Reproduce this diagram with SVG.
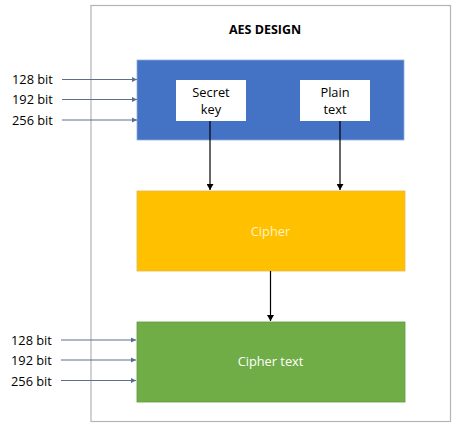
<svg xmlns="http://www.w3.org/2000/svg" width="474" height="426" viewBox="0 0 474 426">
<defs>
<style>
text{font-family:"Open Sans","Liberation Sans",sans-serif;}
.lbl{font-size:12.8px;fill:#000;}
.in{stroke:#5b6e8f;stroke-width:1;fill:none;marker-end:url(#ag);}
.flow{stroke:#000;stroke-width:1.2;fill:none;marker-end:url(#ab);}
</style>
<marker id="ag" markerWidth="6" markerHeight="6" refX="5" refY="3" orient="auto" markerUnits="userSpaceOnUse"><path d="M0,0.5 L5,3 L0,5.5 Z" fill="#5b6e8f"/></marker>
<marker id="ab" markerWidth="7" markerHeight="7" refX="6" refY="3.5" orient="auto" markerUnits="userSpaceOnUse"><path d="M0,0 L6,3.5 L0,7 Z" fill="#000"/></marker>
</defs>
<rect width="474" height="426" fill="#fff"/>
<g id="frame"><rect x="91" y="5.5" width="359.5" height="416" fill="none" stroke="#b4b4b4" stroke-width="1.2"/></g>
<g id="title"><text x="265" y="34" font-size="12.5" font-weight="bold" text-anchor="middle">AES DESIGN</text></g>
<g id="input"><rect x="137" y="60" width="267" height="80" fill="#4472c4" stroke="#8fb0de" stroke-width="0.8"/></g>
<g id="secret-key"><rect x="176" y="80" width="70" height="41" fill="#fff"/><text class="lbl" x="211" y="97" text-anchor="middle">Secret</text><text class="lbl" x="211" y="114" text-anchor="middle">key</text></g>
<g id="plain-text"><rect x="300" y="80" width="70" height="41" fill="#fff"/><text class="lbl" x="335" y="97" text-anchor="middle">Plain</text><text class="lbl" x="335" y="114" text-anchor="middle">text</text></g>
<g id="cipher"><rect x="137" y="191" width="268" height="80" fill="#ffc000" stroke="#e6b64a" stroke-width="0.8"/><text class="lbl" x="270.5" y="236" text-anchor="middle" style="fill:#fff3c4">Cipher</text></g>
<g id="cipher-text"><rect x="137" y="322" width="268" height="80" fill="#70ad47" stroke="#5f9a3c" stroke-width="0.8"/><text class="lbl" x="270.5" y="366" text-anchor="middle" style="fill:#fff">Cipher text</text></g>
<g id="labels">
<text class="lbl" x="12" y="84">128 bit</text>
<text class="lbl" x="12" y="104">192 bit</text>
<text class="lbl" x="12" y="125">256 bit</text>
<text class="lbl" x="11" y="345">128 bit</text>
<text class="lbl" x="11" y="365">192 bit</text>
<text class="lbl" x="11" y="386">256 bit</text>
</g>
<g id="connectors">
<line class="in" x1="62" y1="79.5" x2="137" y2="79.5"/>
<line class="in" x1="62" y1="99.5" x2="137" y2="99.5"/>
<line class="in" x1="62" y1="120" x2="137" y2="120"/>
<line class="in" x1="61" y1="340" x2="136" y2="340"/>
<line class="in" x1="61" y1="360" x2="136" y2="360"/>
<line class="in" x1="61" y1="380.5" x2="136" y2="380.5"/>
<line class="flow" x1="210" y1="121" x2="210" y2="190"/>
<line class="flow" x1="340" y1="121" x2="340" y2="190"/>
<line class="flow" x1="270.5" y1="271" x2="270.5" y2="321"/>
</g>
</svg>
